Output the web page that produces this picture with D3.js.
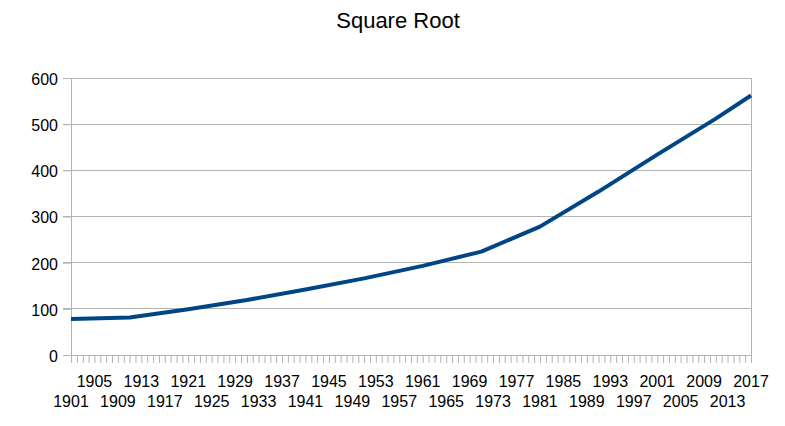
<!DOCTYPE html>
<html>
<head>
<meta charset="utf-8">
<script src="https://cdn.jsdelivr.net/npm/d3@7"></script>
<style>
  body { margin: 0; background: #fff; }
  text { font-family: "Liberation Sans", Arial, sans-serif; fill: #000; }
</style>
</head>
<body>
<svg id="chart" width="785" height="426"></svg>
<script>
(function () {
  const width = 785;
  const height = 426;
  const padding = { top: 78, left: 71, right: 34, bottom: 71 };

  // every category on the x axis (one per year)
  const years = d3.range(1901, 2018);
  // labelled years, alternating between two rows
  const labelYears = [1901, 1905, 1909, 1913, 1917, 1921, 1925, 1929, 1933, 1937,
    1941, 1945, 1949, 1953, 1957, 1961, 1965, 1969, 1973, 1977, 1981, 1985,
    1989, 1993, 1997, 2001, 2005, 2009, 2013, 2017];
  // values at the bends of the line
  const pointYears = [1901, 1911, 1921, 1931, 1941, 1951, 1961, 1971, 1981, 1991, 2001, 2011, 2017];
  const pointValues = [78, 81, 99, 119, 142, 166, 193, 224, 278, 354, 434, 512, 562];
  const yTicks = [0, 100, 200, 300, 400, 500, 600];

  const svg = d3.select('#chart');

  const xScale = d3.scalePoint()
    .domain(years)
    .range([padding.left, width - padding.right]);
  const yScale = d3.scaleLinear()
    .domain([0, 600])
    .range([height - padding.bottom, padding.top]);

  const x0 = padding.left;
  const x1 = width - padding.right;
  const y0 = height - padding.bottom;

  // horizontal grid lines
  svg.append('g')
    .selectAll('line')
    .data(yTicks)
    .join('line')
    .attr('x1', x0 - 8)
    .attr('x2', x1)
    .attr('y1', d => yScale(d))
    .attr('y2', d => yScale(d))
    .attr('stroke', '#b3b3b3')
    .attr('stroke-width', 1)
    .attr('shape-rendering', 'crispEdges');

  // right frame line
  svg.append('line')
    .attr('x1', x1).attr('x2', x1)
    .attr('y1', yScale(600)).attr('y2', y0)
    .attr('stroke', '#b3b3b3')
    .attr('shape-rendering', 'crispEdges');

  // y axis
  const yAxis = d3.axisLeft(yScale)
    .tickValues(yTicks)
    .tickSize(8)
    .tickPadding(5);
  const gy = svg.append('g')
    .attr('transform', `translate(${x0}, 0)`)
    .call(yAxis);
  gy.select('.domain').remove();
  gy.selectAll('.tick line').attr('stroke', '#b3b3b3');
  gy.selectAll('.tick text')
    .attr('font-size', 16)
    .attr('dy', '0.4em')
    .style('font-family', '"Liberation Sans", Arial, sans-serif');
  svg.append('line')
    .attr('x1', x0).attr('x2', x0)
    .attr('y1', yScale(600)).attr('y2', y0 + 8)
    .attr('stroke', '#b3b3b3')
    .attr('shape-rendering', 'crispEdges');

  // x axis
  const xAxis = d3.axisBottom(xScale)
    .tickSize(8)
    .tickFormat('');
  const gx = svg.append('g')
    .attr('transform', `translate(0, ${y0})`)
    .call(xAxis);
  gx.select('.domain')
    .attr('d', `M${x0},0.5H${x1}`)
    .attr('stroke', '#b3b3b3');
  gx.selectAll('.tick line').attr('stroke', '#b3b3b3');

  svg.append('g')
    .selectAll('text')
    .data(labelYears)
    .join('text')
    .attr('x', d => xScale(d))
    .attr('y', (d, i) => i % 2 === 0 ? 407 : 387)
    .attr('text-anchor', 'middle')
    .attr('font-size', 16)
    .text(d => d);

  // the line
  const line = d3.line()
    .x((d, i) => xScale(pointYears[i]))
    .y(d => yScale(d));

  svg.append('path')
    .datum(pointValues)
    .attr('d', line)
    .attr('fill', 'none')
    .attr('stroke', '#004586')
    .attr('stroke-width', 4)
    .attr('stroke-linejoin', 'round');

  // title
  svg.append('text')
    .attr('x', 398)
    .attr('y', 28)
    .attr('text-anchor', 'middle')
    .attr('font-size', 22)
    .text('Square Root');
})();
</script>
</body>
</html>
